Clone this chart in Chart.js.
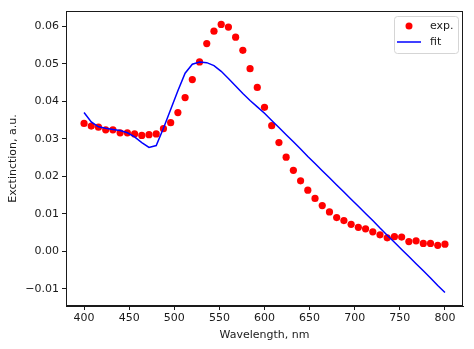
<!DOCTYPE html>
<html>
<head>
<meta charset="utf-8">
<script src="https://cdn.jsdelivr.net/npm/chart.js@4/dist/chart.umd.min.js"></script>
<style>
  html, body { margin: 0; padding: 0; background: #fff; }
  canvas { display: block; }
</style>
</head>
<body>
<canvas id="c" width="474" height="349"></canvas>
<script>
// Wavelength grid (nm), sampled every 8 nm
const wavelengths = [
  400, 408, 416, 424, 432, 440, 448, 456, 464, 472,
  480, 488, 496, 504, 512, 520, 528, 536, 544, 552,
  560, 568, 576, 584, 592, 600, 608, 616, 624, 632,
  640, 648, 656, 664, 672, 680, 688, 696, 704, 712,
  720, 728, 736, 744, 752, 760, 768, 776, 784, 792, 800
];

// Measured extinction
const expValues = [
  0.0341, 0.0334, 0.0331, 0.0324, 0.0324, 0.0316, 0.0316, 0.0313, 0.0309, 0.0311,
  0.0313, 0.0327, 0.0343, 0.0370, 0.0410, 0.0458, 0.0505, 0.0554, 0.0587, 0.0605,
  0.0598, 0.0571, 0.0536, 0.0487, 0.0437, 0.0384, 0.0335, 0.0290, 0.0251, 0.0216,
  0.0188, 0.0163, 0.0141, 0.0122, 0.0105, 0.0090, 0.0082, 0.0072, 0.0064, 0.0060,
  0.0052, 0.0044, 0.0036, 0.0039, 0.0038, 0.0026, 0.0028, 0.0021, 0.0021, 0.0016, 0.0019
];

// Model fit
const fitValues = [
  0.0370, 0.0345, 0.0332, 0.0328, 0.0325, 0.0322, 0.0316, 0.0305, 0.0290, 0.0277,
  0.0282, 0.0328, 0.0378, 0.0428, 0.0475, 0.0499, 0.0505, 0.0503, 0.0495, 0.0480,
  0.0461, 0.0441, 0.0421, 0.0402, 0.0385, 0.0368, 0.0349, 0.0330, 0.0311, 0.0292,
  0.0273, 0.0253, 0.0234, 0.0215, 0.0196, 0.0177, 0.0158, 0.0139, 0.0120, 0.0101,
  0.0082, 0.0062, 0.0043, 0.0024, 0.0005, -0.0014, -0.0033, -0.0052, -0.0071, -0.0091, -0.0110
];

const xTicks = [400, 450, 500, 550, 600, 650, 700, 750, 800];
const yTicks = [-0.01, 0.00, 0.01, 0.02, 0.03, 0.04, 0.05, 0.06];

const FONT = { family: "'DejaVu Sans', sans-serif", size: 11 };
const INK = '#1a1a1a';

// Frame on all four sides plus an in-plot legend box
const framePlugin = {
  id: 'frame',
  afterDatasetsDraw(chart) {
    const { ctx, chartArea: a } = chart;
    ctx.save();
    ctx.strokeStyle = INK;
    ctx.lineWidth = 1;
    ctx.strokeRect(Math.round(a.left) + 0.5, Math.round(a.top) + 0.5,
                   Math.round(a.right - a.left) - 1, Math.round(a.bottom - a.top) - 1);
    ctx.restore();
  },
  afterDraw(chart) {
    const { ctx, chartArea: a } = chart;
    const ds = chart.data.datasets;
    const boxW = 64, boxH = 37;
    const bx = a.right - 5 - boxW, by = a.top + 5;
    ctx.save();
    ctx.beginPath();
    ctx.roundRect(bx + 0.5, by + 0.5, boxW, boxH, 3);
    ctx.fillStyle = 'rgba(255,255,255,0.8)';
    ctx.fill();
    ctx.strokeStyle = '#d5d5d5';
    ctx.lineWidth = 1;
    ctx.stroke();
    ctx.font = `${FONT.size}px ${FONT.family}`;
    ctx.textBaseline = 'middle';
    ctx.fillStyle = INK;
    // dots entry
    const r0y = by + 10;
    ctx.beginPath();
    ctx.arc(bx + 15, r0y, 3.5, 0, Math.PI * 2);
    ctx.fillStyle = ds[0].backgroundColor;
    ctx.fill();
    ctx.fillStyle = INK;
    ctx.fillText(ds[0].label, bx + 36, r0y);
    // line entry
    const r1y = by + 26;
    ctx.beginPath();
    ctx.moveTo(bx + 3, r1y);
    ctx.lineTo(bx + 27, r1y);
    ctx.strokeStyle = ds[1].borderColor;
    ctx.lineWidth = 1.5;
    ctx.stroke();
    ctx.fillText(ds[1].label, bx + 36, r1y);
    ctx.restore();
  }
};

const expPoints = wavelengths.map((w, i) => ({ x: w, y: expValues[i] }));
const fitPoints = wavelengths.map((w, i) => ({ x: w, y: fitValues[i] }));

new Chart(document.getElementById('c'), {
  type: 'scatter',
  data: {
    datasets: [
      {
        label: 'exp.',
        data: expPoints,
        backgroundColor: '#ff0000',
        borderColor: '#ff0000',
        pointRadius: 3.6,
        pointBorderWidth: 0,
        showLine: false,
        order: 1
      },
      {
        label: 'fit',
        type: 'line',
        data: fitPoints,
        borderColor: '#0000ff',
        backgroundColor: '#0000ff',
        borderWidth: 1.5,
        pointRadius: 0,
        tension: 0,
        fill: false,
        order: 0
      }
    ]
  },
  options: {
    responsive: false,
    animation: false,
    devicePixelRatio: 1,
    layout: { padding: { top: 11, right: 11, left: 0, bottom: 0 } },
    plugins: {
      legend: { display: false },
      tooltip: { enabled: false }
    },
    scales: {
      x: {
        type: 'linear',
        min: 380,
        max: 820,
        afterBuildTicks: (s) => { s.ticks = xTicks.map(v => ({ value: v })); },
        afterFit: (s) => { s.height = 43; },
        grid: { drawOnChartArea: false, drawTicks: true, tickLength: 4, tickColor: INK, tickWidth: 1 },
        border: { display: true, color: INK, width: 1 },
        ticks: { color: INK, font: FONT, padding: 2, maxRotation: 0, autoSkip: false,
                 callback: (v) => String(v) },
        title: { display: true, text: 'Wavelength, nm', color: INK, font: FONT,
                 padding: { top: 0, bottom: 7 } }
      },
      y: {
        type: 'linear',
        min: -0.014575,
        max: 0.064075,
        afterBuildTicks: (s) => { s.ticks = yTicks.map(v => ({ value: v })); },
        afterFit: (s) => { s.width = 66; },
        grid: { drawOnChartArea: false, drawTicks: true, tickLength: 4, tickColor: INK, tickWidth: 1 },
        border: { display: true, color: INK, width: 1 },
        ticks: { color: INK, font: FONT, padding: 3, autoSkip: false,
                 callback: (v) => (v < 0 ? '\u2212' : '') + Math.abs(v).toFixed(2) },
        title: { display: true, text: 'Exctinction, a.u.', color: INK, font: FONT,
                 padding: { top: 7, bottom: 0 } }
      }
    }
  },
  plugins: [framePlugin]
});
</script>
</body>
</html>
